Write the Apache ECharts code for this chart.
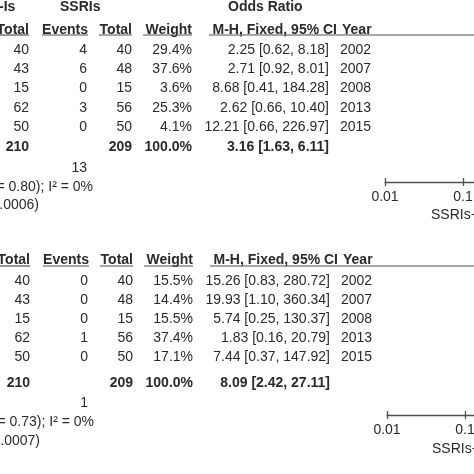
<!DOCTYPE html>
<html><head><meta charset="utf-8">
<script src="https://cdn.jsdelivr.net/npm/echarts@6/dist/echarts.min.js"></script>
<style>html,body{margin:0;padding:0;background:#fff}#c{width:474px;height:474px}</style>
</head><body><div id="c"></div>
<script>
// ---------- data ----------
const groupLabel = '-Is';
const ssriLabel = 'SSRIs';
const orLabel = 'Odds Ratio';
const colHeaders = ['Total', 'Events', 'Total', 'Weight', 'M-H, Fixed, 95% CI', 'Year'];
const favourLabel = 'SSRIs+';
const years = ['2002', '2007', '2008', '2013', '2015'];
const axisTicks = [0.01, 0.1, 1, 10, 100];

// panel 1
const p1CtrlTotal = [40, 43, 15, 62, 50];
const p1SsriEvents = [4, 6, 0, 3, 0];
const p1SsriTotal = [40, 48, 15, 56, 50];
const p1Weight = [29.4, 37.6, 3.6, 25.3, 4.1];
const p1OR = [2.25, 2.71, 8.68, 2.62, 12.21];
const p1Low = [0.62, 0.92, 0.41, 0.66, 0.66];
const p1High = [8.18, 8.01, 184.28, 10.40, 226.97];
const p1Totals = [210, 209, 100.0];
const p1Pooled = [3.16, 1.63, 6.11];
const p1TotalEvents = 13;
const p1Het = '= 0.80); I² = 0%';
const p1Test = '.0006)';

// panel 2
const p2CtrlTotal = [40, 43, 15, 62, 50];
const p2SsriEvents = [0, 0, 0, 1, 0];
const p2SsriTotal = [40, 48, 15, 56, 50];
const p2Weight = [15.5, 14.4, 15.5, 37.4, 17.1];
const p2OR = [15.26, 19.93, 5.74, 1.83, 7.44];
const p2Low = [0.83, 1.10, 0.25, 0.16, 0.37];
const p2High = [280.72, 360.34, 130.37, 20.79, 147.92];
const p2Totals = [210, 209, 100.0];
const p2Pooled = [8.09, 2.42, 27.11];
const p2TotalEvents = 1;
const p2Het = '= 0.73); I² = 0%';
const p2Test = '.0007)';

// ---------- layout ----------
const FONT = '"Liberation Sans", Arial, sans-serif';
const TXT = '#2a2a2a';
const LINE = '#505050';
const fmt2 = v => v.toFixed(2);
const ci = (o, l, h) => fmt2(o) + ' [' + fmt2(l) + ', ' + fmt2(h) + ']';

function txt(x, y, s, align, bold) {
  return {
    type: 'text', x: x, y: y, silent: true,
    style: {
      text: String(s), fill: TXT,
      font: (bold ? 'bold ' : '') + '14px ' + FONT,
      textAlign: align || 'left', align: align || 'left',
      textVerticalAlign: 'middle', verticalAlign: 'middle'
    }
  };
}
function hline(x1, x2, y, w) {
  return { type: 'line', silent: true, shape: { x1: x1, y1: y, x2: x2, y2: y },
    style: { stroke: LINE, lineWidth: w || 1.2 } };
}

const panels = [
  { dx: 0, hdr1: 7, hdr2: 30, under: 35, row0: 50, step: 19.25, totY: 147, evY: 168, hetY: 187, testY: 205,
    axisY: 182, favY: 215, gridLeft: 385,
    ctrl: p1CtrlTotal, ev: p1SsriEvents, st: p1SsriTotal, w: p1Weight, or: p1OR, lo: p1Low, hi: p1High,
    tot: p1Totals, pooled: p1Pooled, tev: p1TotalEvents, het: p1Het, test: p1Test, showHdr1: true },
  { dx: 1, hdr1: 240, hdr2: 260, under: 266, row0: 281, step: 19.1, totY: 383, evY: 403, hetY: 422, testY: 441,
    axisY: 415, favY: 449, gridLeft: 387,
    ctrl: p2CtrlTotal, ev: p2SsriEvents, st: p2SsriTotal, w: p2Weight, or: p2OR, lo: p2Low, hi: p2High,
    tot: p2Totals, pooled: p2Pooled, tev: p2TotalEvents, het: p2Het, test: p2Test, showHdr1: false }
];

const graphics = [];
panels.forEach(p => {
  const d = p.dx;
  if (p.showHdr1) {
    graphics.push(txt(-1 + d, p.hdr1, groupLabel, 'left', true));
    graphics.push(txt(60 + d, p.hdr1, ssriLabel, 'left', true));
    graphics.push(txt(228 + d, p.hdr1, orLabel, 'left', true));
  }
  const hx = [29, 88, 132, 192, 337];
  for (let i = 0; i < 5; i++) graphics.push(txt(hx[i] + d, p.hdr2, colHeaders[i], 'right', true));
  graphics.push(txt(342 + d, p.hdr2, colHeaders[5], 'left', true));
  // underlines
  graphics.push(hline(0, 29 + d, p.under));
  graphics.push(hline(42 + d, 88 + d, p.under));
  graphics.push(hline(99 + d, 132 + d, p.under));
  graphics.push(hline(143 + d, 192 + d, p.under));
  graphics.push(hline(209 + d, 474, p.under));
  // rows
  for (let i = 0; i < 5; i++) {
    const y = p.row0 + i * p.step;
    graphics.push(txt(29 + d, y, p.ctrl[i], 'right'));
    graphics.push(txt(87 + d, y, p.ev[i], 'right'));
    graphics.push(txt(132 + d, y, p.st[i], 'right'));
    graphics.push(txt(192 + d, y, p.w[i].toFixed(1) + '%', 'right'));
    graphics.push(txt(329 + d, y, ci(p.or[i], p.lo[i], p.hi[i]), 'right'));
    graphics.push(txt(340 + d, y, years[i], 'left'));
  }
  graphics.push(txt(29 + d, p.totY, p.tot[0], 'right', true));
  graphics.push(txt(132 + d, p.totY, p.tot[1], 'right', true));
  graphics.push(txt(192 + d, p.totY, p.tot[2].toFixed(1) + '%', 'right', true));
  graphics.push(txt(329 + d, p.totY, ci(p.pooled[0], p.pooled[1], p.pooled[2]), 'right', true));
  graphics.push(txt(87 + d, p.evY, p.tev, 'right'));
  graphics.push(txt(93 + d, p.hetY, p.het, 'right'));
  graphics.push(txt(39 + d, p.testY, p.test, 'right'));
  graphics.push(txt(431 + d, p.favY, favourLabel, 'left'));
});

const DEC = 78; // px per decade
const grids = panels.map(p => ({
  left: p.gridLeft, top: p.row0, width: DEC * 4, height: p.axisY - p.row0,
  containLabel: false, outerBoundsMode: 'none'
}));
const xAxes = [];
const yAxes = [];
panels.forEach((p, gi) => {
  xAxes.push({
    gridIndex: gi, type: 'log', logBase: 10, min: axisTicks[0], max: axisTicks[axisTicks.length - 1],
    position: 'bottom',
    axisLine: { onZero: false, lineStyle: { color: LINE, width: 1.3 } },
    axisTick: { show: true, length: 4, lineStyle: { color: LINE, width: 1.3 } },
    axisLabel: { margin: 8, color: TXT, fontSize: 14, fontFamily: FONT, hideOverlap: false,
      formatter: v => String(+v.toPrecision(3)) },
    splitLine: { show: false }
  });
  xAxes.push({
    gridIndex: gi, type: 'log', logBase: 10, min: axisTicks[0], max: axisTicks[axisTicks.length - 1],
    position: 'bottom',
    axisLine: { show: false, onZero: false },
    axisTick: { show: true, inside: true, length: 4, lineStyle: { color: LINE, width: 1.3 } },
    axisLabel: { show: false }, splitLine: { show: false }
  });
  yAxes.push({ gridIndex: gi, type: 'value', inverse: true, min: 0,
    max: (p.axisY - p.row0) / p.step, show: false });
});

const series = panels.map((p, gi) => {
  const data = p.or.map((o, i) => [o, p.lo[i], p.hi[i], i, p.w[i], 0]);
  data.push([p.pooled[0], p.pooled[1], p.pooled[2], (p.totY - p.row0) / p.step, 100, 1]);
  return {
    type: 'custom', xAxisIndex: gi * 2, yAxisIndex: gi, clip: true, silent: true,
    data: data,
    renderItem: (params, api) => {
      const o = api.coord([api.value(0), api.value(3)]);
      const l = api.coord([api.value(1), api.value(3)]);
      const h = api.coord([api.value(2), api.value(3)]);
      if (api.value(5) === 1) {
        return { type: 'polygon', shape: { points: [[l[0], o[1]], [o[0], o[1] - 5], [h[0], o[1]], [o[0], o[1] + 5]] },
          style: { fill: '#000' } };
      }
      const s = Math.sqrt(api.value(4)) * 1.6;
      return { type: 'group', children: [
        { type: 'line', shape: { x1: l[0], y1: l[1], x2: h[0], y2: h[1] }, style: { stroke: '#000', lineWidth: 1 } },
        { type: 'rect', shape: { x: o[0] - s / 2, y: o[1] - s / 2, width: s, height: s }, style: { fill: '#2e8b57' } }
      ] };
    }
  };
});

const chart = echarts.init(document.getElementById('c'), null, { renderer: 'canvas' });
chart.setOption({
  backgroundColor: '#fff',
  animation: false,
  grid: grids, xAxis: xAxes, yAxis: yAxes, series: series,
  graphic: { elements: graphics }
});
</script></body></html>
